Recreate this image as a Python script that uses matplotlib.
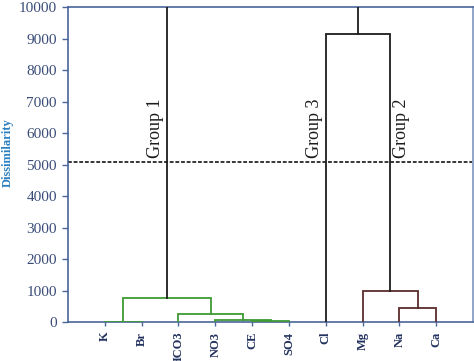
import matplotlib
matplotlib.use('Agg')
import matplotlib.pyplot as plt

# leaves of the dendrogram, left to right
leaves = ['K', 'Br', 'HCO3', 'NO3', 'CE', 'SO4', 'Cl', 'Mg', 'Na', 'Ca']
leaf_labels = ['K', 'Br', 'HCO3', 'NO3', 'CE', 'SO4', 'Cl', 'Mg', 'Na', 'Ca']

# merges: (left, right, height, colour key); 'c<i>' means result of merge i
merges = [
    ('K', 'Br', 15, 'g1'),
    ('CE', 'SO4', 20, 'g1'),
    ('NO3', 'c1', 55, 'g1'),
    ('HCO3', 'c2', 240, 'g1'),
    ('c0', 'c3', 750, 'g1'),
    ('Na', 'Ca', 440, 'g2'),
    ('Mg', 'c5', 1000, 'g2'),
    ('Cl', 'c6', 9150, 'top'),
    ('c4', 'c7', 11000, 'top'),
]

cut_height = 5080
group_names = ['Group 1', 'Group 3', 'Group 2']
group_nodes = ['c4', 'Cl', 'c6']
group_side = [-1, -1, 1]

colors = {'g1': '#3f9a35', 'g2': '#5a2c2c', 'top': '#1c1c1c'}
serif = ['Liberation Serif', 'DejaVu Serif']

fig = plt.figure(figsize=(4.74, 3.61), dpi=100)
ax = fig.add_axes([0.1435, 0.108, 0.8545, 0.8726])

# position / height of each node
xpos = {name: i for i, name in enumerate(leaves)}
hgt = {name: 0 for name in leaves}
for i, (a, b, h, c) in enumerate(merges):
    col = colors[c]
    ax.plot([xpos[a], xpos[a], xpos[b], xpos[b]], [hgt[a], h, h, hgt[b]],
            color=col, lw=1.3, solid_joinstyle='miter', clip_on=True, zorder=3)
    xpos['c%d' % i] = (xpos[a] + xpos[b]) / 2
    hgt['c%d' % i] = h

ax.axhline(cut_height, color='black', lw=1.1, ls=(0, (2.5, 1.2)), zorder=2)

for name, node, side in zip(group_names, group_nodes, group_side):
    if side < 0:
        ax.text(xpos[node] - 0.07, cut_height + 120, name, rotation=90,
                ha='right', va='bottom', fontsize=13, family=serif, color='#1c1c1c')
    else:
        ax.text(xpos[node] + 0.07, cut_height + 120, name, rotation=90,
                ha='left', va='bottom', fontsize=13, family=serif, color='#1c1c1c')

ax.set_xlim(-1, 10)
ax.set_ylim(0, 10000)
ax.set_yticks(range(0, 10001, 1000))
ax.set_yticklabels([str(v) for v in range(0, 10001, 1000)],
                   family=serif, fontsize=11, color='#3a4c78')
ax.set_xticks(range(len(leaves)))
ax.set_xticklabels(leaf_labels, rotation=90, family=serif, fontsize=9,
                   fontweight='bold', color='#23325e', va='top')
ax.tick_params(axis='y', length=4, width=1, color='#4a659a', pad=4)
ax.tick_params(axis='x', length=3, width=1, color='#4a659a', pad=4)

for s in ['left', 'bottom', 'top']:
    ax.spines[s].set_color('#4a659a')
    ax.spines[s].set_linewidth(1.2)
ax.spines['right'].set_color('#8fa5c8')
ax.spines['right'].set_linewidth(1.4)

ax.set_ylabel('Dissimilarity', family=serif, fontsize=9, fontweight='bold',
              color='#2b80c2')
ax.yaxis.set_label_coords(-0.135, 0.537)

fig.savefig('out.png', dpi=100)
